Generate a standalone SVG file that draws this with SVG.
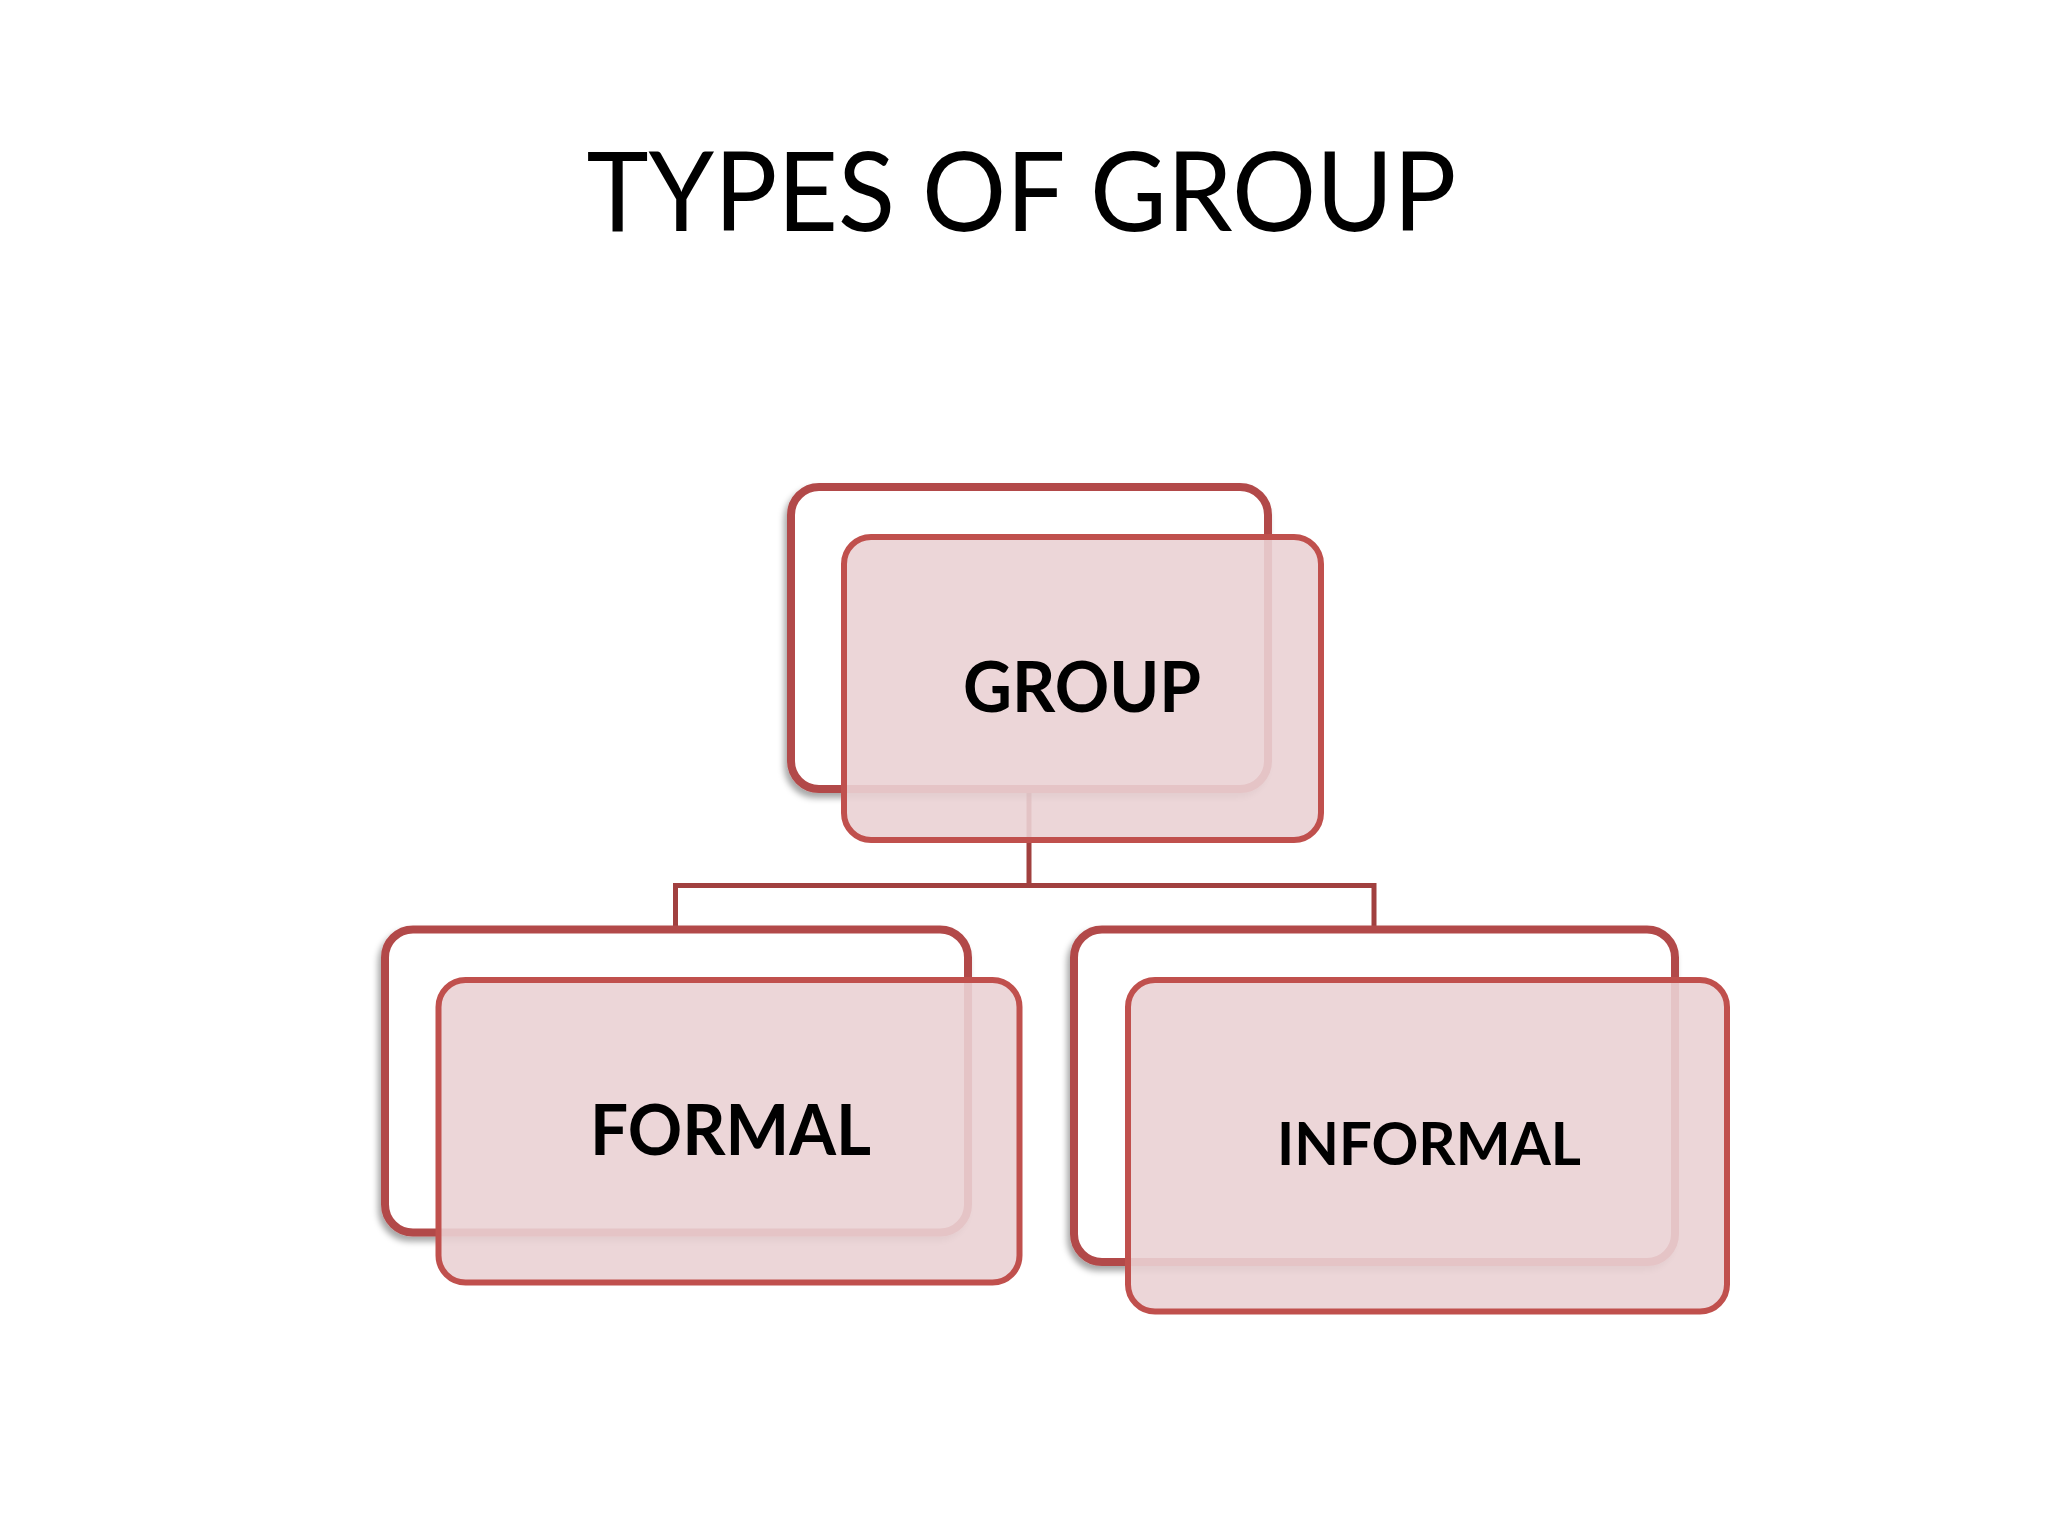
<svg xmlns="http://www.w3.org/2000/svg" width="2048" height="1536" viewBox="0 0 2048 1536">
  <defs>
    <filter id="shadow" x="-10%" y="-10%" width="120%" height="125%">
      <feDropShadow dx="-3" dy="5" stdDeviation="3" flood-color="#000000" flood-opacity="0.35"/>
    </filter>
  </defs>
  <style>
    .back { fill: #ffffff; stroke: #b24a4a; stroke-width: 8; filter: url(#shadow); }
    .front { fill: #ead2d4; fill-opacity: 0.9; stroke: #c0504d; stroke-width: 6; }
    .conn { fill: none; stroke: #a1403f; stroke-width: 5; }
    .label { font-family: Lato, "Open Sans", "Liberation Sans", sans-serif; font-weight: bold; fill: #000000; text-anchor: middle; }
    .title { font-family: Lato, "Open Sans", "Liberation Sans", sans-serif; fill: #000000; text-anchor: middle; }
  </style>
  <rect width="2048" height="1536" fill="#ffffff"/>

  <text class="title" x="1021.5" y="231" font-size="110" textLength="870" lengthAdjust="spacingAndGlyphs">TYPES OF GROUP</text>

  <g id="connectors">
    <path class="conn" d="M1029,789 V885.5"/>
    <path class="conn" d="M675.5,929.5 V885.5 H1374 V929.5"/>
  </g>

  <g id="node-group">
    <rect class="back" x="791" y="487" width="477" height="302" rx="28"/>
    <rect class="front" x="844" y="537" width="477" height="303" rx="27"/>
    <text class="label" x="1082" y="711.5" font-size="70" textLength="238" lengthAdjust="spacingAndGlyphs">GROUP</text>
  </g>

  <g id="node-formal">
    <rect class="back" x="385" y="929.5" width="583" height="303" rx="28"/>
    <rect class="front" x="438.5" y="980" width="581" height="302.5" rx="27"/>
    <text class="label" x="730.5" y="1155" font-size="70" textLength="281" lengthAdjust="spacingAndGlyphs">FORMAL</text>
  </g>

  <g id="node-informal">
    <rect class="back" x="1074" y="929.5" width="601" height="332.5" rx="28"/>
    <rect class="front" x="1128" y="980" width="599" height="331.5" rx="27"/>
    <text class="label" x="1429" y="1165" font-size="60" textLength="304" lengthAdjust="spacingAndGlyphs">INFORMAL</text>
  </g>
</svg>
